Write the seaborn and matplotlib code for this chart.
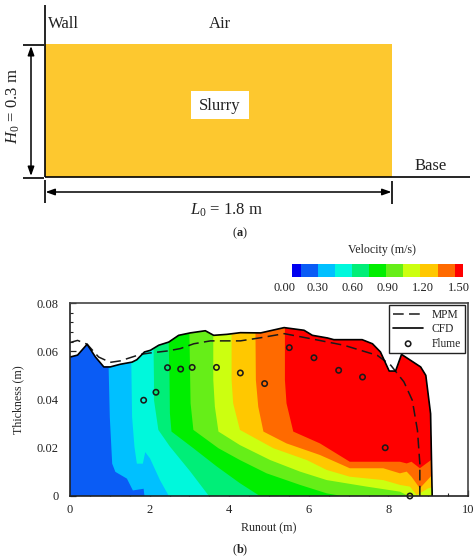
import matplotlib
matplotlib.use("Agg")
import matplotlib.pyplot as plt
from matplotlib.colors import BoundaryNorm, ListedColormap
from matplotlib.patches import Rectangle
from matplotlib.ticker import MultipleLocator
import seaborn as sns

W, H = 474, 560

# panel (a)
L0 = 1.8
H0 = 0.3
SLURRY_COLOR = "#fdc82f"

# panel (b): free surfaces
cfd_x = [0, 0.19, 0.43, 0.64, 0.85, 1.01, 1.26, 1.56, 1.68, 1.87, 2.02, 2.23, 2.48, 2.73, 3.02, 3.4,
         3.61, 3.94, 4.28, 4.79, 5.38, 5.88, 6.09, 6.47, 6.63, 7.34, 7.6, 7.8, 8.02, 8.18, 8.33, 8.81,
         8.94, 9.06, 9.1]
cfd_y = [0.0576, 0.0584, 0.0629, 0.0576, 0.0535, 0.0535, 0.0546, 0.0555, 0.0565, 0.0597, 0.0604, 0.0625,
         0.0638, 0.0666, 0.0676, 0.0685, 0.0666, 0.067, 0.0677, 0.0676, 0.0698, 0.0687, 0.0666, 0.0655,
         0.0648, 0.0648, 0.0631, 0.0597, 0.0518, 0.0518, 0.0587, 0.0535, 0.05, 0.0341, 0]

mpm_x = [0, 0.19, 0.43, 0.72, 1.01, 1.26, 1.77, 2.02, 2.44, 2.77, 3.11, 3.53, 4.28, 4.79, 5.38, 6.05,
         6.88, 7.72, 8.06, 8.39, 8.6, 8.73, 8.79, 8.79]
mpm_y = [0.0636, 0.0645, 0.0629, 0.0576, 0.0554, 0.056, 0.0587, 0.0593, 0.0601, 0.0611, 0.0631, 0.0643,
         0.0643, 0.0656, 0.0673, 0.0652, 0.0625, 0.0583, 0.0542, 0.0473, 0.0397, 0.0272, 0.0134, 0]

flume_x = [1.85, 2.16, 2.45, 2.78, 3.07, 3.68, 4.28, 4.89, 5.51, 6.13, 6.75, 7.35, 7.92, 8.54]
flume_y = [0.0397, 0.043, 0.0532, 0.0526, 0.0533, 0.0533, 0.051, 0.0466, 0.0615, 0.0573, 0.0521, 0.0493,
           0.02, 0]

# velocity colours, slowest to fastest
band_colors = ["#0000f0", "#0a5cf5", "#00c0ff", "#00f8dc", "#00ee78", "#00ee00",
               "#66ee18", "#ccff10", "#ffc800", "#ff6a00", "#ff0000"]

# contour edges, (x, y) from the top of the flow downwards
contour_x = [
    [0.97, 0.97, 1.0, 1.06, 1.14, 1.43, 1.58, 1.85, 1.87],
    [1.54, 1.54, 1.56, 1.62, 1.68, 1.83, 1.89, 2.01, 2.26, 2.47, 2.5],
    [2.1, 2.1, 2.11, 2.11, 2.22, 2.51, 3.02, 3.49],
    [2.48, 2.48, 2.5, 2.51, 2.55, 3.1, 3.69, 4.27, 4.77],
    [3.0, 3.0, 3.02, 3.03, 3.1, 3.73, 4.27, 4.94, 5.78, 6.45, 6.7, 6.8],
    [3.6, 3.6, 3.6, 3.64, 3.73, 4.27, 5.03, 5.78, 6.45, 7.45, 8.29, 8.46, 8.5],
    [4.06, 4.06, 4.06, 4.1, 4.27, 5.11, 5.95, 6.45, 7.03, 7.87, 8.29, 8.54, 8.71, 9.0, 9.2],
    [4.66, 4.66, 4.67, 4.73, 4.86, 5.44, 6.28, 7.03, 7.87, 8.29, 8.46, 8.58, 8.79, 9.2],
    [5.4, 5.4, 5.4, 5.44, 5.61, 6.28, 7.03, 7.87, 8.29, 8.46, 8.58, 8.79, 9.2],
]
contour_y = [
    [0.08, 0.0535, 0.0327, 0.0134, 0.01, 0.0072, 0.0023, 0.003, 0],
    [0.08, 0.0555, 0.0327, 0.0203, 0.0134, 0.0134, 0.0182, 0.0156, 0.0066, 0.0004, 0],
    [0.08, 0.0597, 0.0481, 0.0398, 0.0274, 0.0205, 0.0102, 0],
    [0.08, 0.0638, 0.0481, 0.0343, 0.0267, 0.0198, 0.0122, 0.0053, 0],
    [0.08, 0.0673, 0.0481, 0.0384, 0.0274, 0.0198, 0.0149, 0.0094, 0.0046, 0.0011, 0.0004, 0],
    [0.08, 0.0666, 0.0481, 0.037, 0.0267, 0.0211, 0.0149, 0.0101, 0.0066, 0.0039, 0.0018, 0.0004, 0],
    [0.08, 0.0673, 0.0481, 0.0384, 0.0274, 0.0198, 0.0149, 0.0108, 0.008, 0.0066, 0.0046, 0.0039, 0.0004, 0.0032, 0.004],
    [0.08, 0.0677, 0.0481, 0.037, 0.0267, 0.0218, 0.017, 0.0115, 0.0115, 0.0094, 0.0101, 0.008, 0.0032, 0.0105],
    [0.08, 0.0698, 0.0481, 0.0384, 0.0267, 0.0218, 0.0142, 0.0142, 0.0142, 0.0135, 0.0142, 0.0115, 0.0165],
]

cbar_edges = [0, 0.08, 0.225, 0.375, 0.525, 0.675, 0.825, 0.975, 1.125, 1.275, 1.425, 1.5]
cbar_labels = ["0.00", "0.30", "0.60", "0.90", "1.20", "1.50"]
cbar_label_px = [285, 317.3, 352.3, 387.3, 423, 459]

sns.set_theme(style="ticks")
plt.rcParams["font.family"] = ["Liberation Serif", "DejaVu Serif"]
plt.rcParams["mathtext.fontset"] = "custom"
plt.rcParams["mathtext.rm"] = "Liberation Serif"
plt.rcParams["mathtext.it"] = "Liberation Serif:italic"
plt.rcParams["mathtext.bf"] = "Liberation Serif:bold"
plt.rcParams["text.color"] = "#222222"

fig = plt.figure(figsize=(W / 100, H / 100), dpi=100)


def add_axes_px(left, top, right, bottom):
    return fig.add_axes([left / W, 1 - bottom / H, (right - left) / W, (bottom - top) / H])


# ---- panel (a): axes span the top of the figure, scaled in metres ----
x_scale = (392 - 44.7) / L0
y_scale = (177 - 43.7) / H0
ax_a = add_axes_px(0, 0, W, 240)
ax_a.set_xlim(-44.7 / x_scale, (W - 44.7) / x_scale)
ax_a.set_ylim((177 - 240) / y_scale, 177 / y_scale)
ax_a.axis("off")


def pa(px, py):
    # picture pixels to panel (a) metres, for labels and guide lines
    return (px - 44.7) / x_scale, (177 - py) / y_scale


ax_a.add_patch(Rectangle((0, 0), L0, H0, color=SLURRY_COLOR, lw=0))
line_kw = dict(color="black", lw=1.2, solid_capstyle="butt")
ax_a.plot(*zip(pa(44.7, 5), pa(44.7, 177)), **line_kw)
ax_a.plot(*zip(pa(44.7, 177), pa(470, 177)), **line_kw)
ax_a.plot(*zip(pa(22.5, 44.7), pa(44, 44.7)), **line_kw)
ax_a.plot(*zip(pa(22.5, 177.5), pa(44, 177.5)), **line_kw)
ax_a.plot(*zip(pa(44.7, 180), pa(44.7, 203)), **line_kw)
ax_a.plot(*zip(pa(392, 181), pa(392, 204)), **line_kw)
arrow_kw = dict(arrowstyle="<|-|>,head_length=0.45,head_width=0.16", color="black", lw=1.1,
                shrinkA=0, shrinkB=0)
ax_a.annotate("", xy=pa(31, 46), xytext=pa(31, 176), arrowprops=arrow_kw)
ax_a.annotate("", xy=pa(45.5, 192), xytext=pa(391.5, 192), arrowprops=arrow_kw)

ax_a.add_patch(Rectangle(pa(191, 119), 58 / x_scale, 28 / y_scale, color="white", lw=0))
ax_a.text(*pa(220, 106), "Slurry", ha="center", va="center", fontsize=12)
ax_a.text(*pa(48, 24), "Wall", ha="left", va="center", fontsize=12)
ax_a.text(*pa(220, 24), "Air", ha="center", va="center", fontsize=12)
ax_a.text(*pa(431, 166), "Base", ha="center", va="center", fontsize=12)
ax_a.text(*pa(227, 210), r"$L_0$ = 1.8 m", ha="center", va="center", fontsize=12)
ax_a.text(*pa(13, 106), r"$H_0$ = 0.3 m", ha="center", va="center", rotation=90, fontsize=12)
fig.text(240 / W, 1 - 233 / H, r"($\mathbf{a}$)", ha="center", va="center", fontsize=8.8)

# ---- panel (b) ----
ax = add_axes_px(70, 303, 468, 496)
surface = ax.fill(cfd_x + [cfd_x[0]], cfd_y + [0], color=band_colors[1], lw=0, zorder=1)[0]
for bx, by, color in zip(contour_x, contour_y, band_colors[2:]):
    # everything right of this edge is at least this fast
    poly_x = bx + [10.5, 10.5]
    poly_y = by + [by[-1], 0.08]
    band = ax.fill(poly_x, poly_y, color=color, lw=0, zorder=1)[0]
    band.set_clip_path(surface)

sns.lineplot(x=mpm_x, y=mpm_y, ax=ax, sort=False, estimator=None, color="#1a1a1a", lw=1.1,
             dashes=(7, 3.5), label="MPM", zorder=3)
sns.lineplot(x=cfd_x, y=cfd_y, ax=ax, sort=False, estimator=None, color="black", lw=1.2,
             label="CFD", zorder=3)
sns.scatterplot(x=flume_x, y=flume_y, ax=ax, marker="o", s=15, facecolor="none", edgecolor="#1a1a1a",
                linewidth=1.15, label="Flume", clip_on=False, zorder=4)

ax.set_xlim(0, 10)
ax.set_ylim(0, 0.08)
ax.set_xticks([0, 2, 4, 6, 8, 10])
ax.set_xticklabels(["0", "2", "4", "6", "8", "10"])
ax.set_yticks([0, 0.02, 0.04, 0.06, 0.08])
ax.set_yticklabels(["0", "0.02", "0.04", "0.06", "0.08"])
ax.xaxis.set_minor_locator(MultipleLocator(0.5))
ax.yaxis.set_minor_locator(MultipleLocator(0.004))
ax.tick_params(which="major", direction="in", length=4, width=0.9, labelsize=9, pad=8, color="#222222",
               labelcolor="#222222")
ax.tick_params(axis="x", which="major", pad=6)
ax.tick_params(which="minor", direction="in", length=2, width=0.8, color="#222222")
ax.set_xlabel("Runout (m)", fontsize=8.6, labelpad=4, color="#222222")
ax.set_ylabel("Thickness (m)", fontsize=8.6, labelpad=9, color="#222222")
for spine in ax.spines.values():
    spine.set_color("#444444")
    spine.set_linewidth(1.2)
    spine.set_zorder(5)
for spine_name in ("left", "bottom"):
    ax.spines[spine_name].set_color("#222222")

ax.legend(loc="upper right", bbox_to_anchor=(0.9917, 0.9896), borderaxespad=0, fontsize=8.3,
          frameon=True, fancybox=False, framealpha=1, edgecolor="#222222", handlelength=2.6,
          labelspacing=0.22, borderpad=0.32, handletextpad=0.75)

# ---- velocity key ----
ax_cb = add_axes_px(292, 264.3, 463.3, 276.7)
norm = BoundaryNorm(cbar_edges, len(band_colors))
mids = [(a + b) / 2 for a, b in zip(cbar_edges[:-1], cbar_edges[1:])]
ax_cb.pcolormesh(cbar_edges, [0, 1], [mids], cmap=ListedColormap(band_colors), norm=norm)
ax_cb.axis("off")
for label, px in zip(cbar_labels, cbar_label_px):
    fig.text(px / W, 1 - 288 / H, label, ha="center", va="center", fontsize=9)
fig.text(381.5 / W, 1 - 250 / H, "Velocity (m/s)", ha="center", va="center", fontsize=8.6)

fig.text(240 / W, 1 - 550 / H, r"($\mathbf{b}$)", ha="center", va="center", fontsize=8.8)

fig.savefig("out.png", dpi=100)
